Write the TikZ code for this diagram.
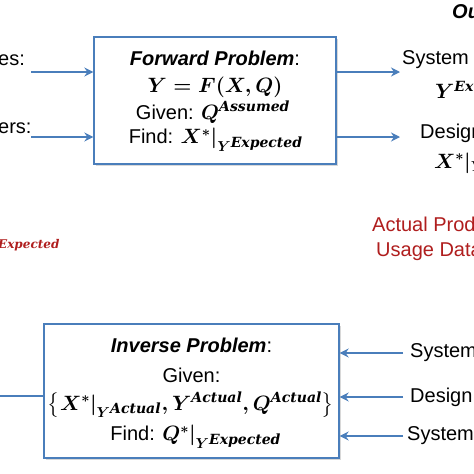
\documentclass[tikz,border=0pt]{standalone}
\usepackage{amsmath}
\usepackage[no-math]{fontspec}
\setmainfont{Liberation Sans}
\newfontfamily\serifbi{DejaVu Serif}
\usetikzlibrary{arrows.meta,shadows}
\definecolor{lineblue}{HTML}{4A7EBB}
\definecolor{darkred}{HTML}{B01E1E}
\newcommand{\bmth}[1]{\mbox{\boldmath$#1$}}
\newcommand{\wsup}[1]{\mbox{\fontsize{14}{14}\selectfont\serifbi\bfseries\itshape #1}}
\begin{document}
\begin{tikzpicture}[x=1pt,y=-1pt,
  font=\fontsize{20}{24}\selectfont,
  box/.style={draw=lineblue, line width=1.3pt, fill=white, inner sep=0pt,
    drop shadow={shadow xshift=2pt, shadow yshift=-2pt, opacity=0.3}},
  arr/.style={draw=lineblue, line width=1.3pt, -{Stealth[length=9pt,width=9pt,inset=3pt]}},
  plainline/.style={draw=lineblue, line width=1.3pt},
  txt/.style={inner sep=0pt},
  lbl/.style={inner sep=0pt, anchor=west},
  redtxt/.style={inner sep=0pt, anchor=west, text=darkred}]
\useasboundingbox (0,0) rectangle (474,474);
\clip (0,0) rectangle (474,474);
\fill[white] (0,0) rectangle (474,474);

% Forward problem box
\node[box, minimum width=242pt, minimum height=127pt] (fwd) at (215,100.5) {};
\node[txt] (f1) at (215,58) {\textbf{\textit{Forward Problem}}:};
\node[txt] (f2) at (215,87) {\bmth{Y = F(X,Q)}};
\node[txt] (f3) at (213,112) {Given: \bmth{Q^{\wsup{Assumed}}}};
\node[txt] (f4) at (216,140) {Find: \bmth{X^*\vert_{Y^{\wsup{Expected}}}}};

% inputs
\node[lbl] (l1) at (-2,60) {es:};
\node[lbl] (l2) at (-2,128) {ers:};
\coordinate (a1) at (31,72);
\coordinate (a2) at (31,137);
\draw[arr] (a1) -- (a1 -| fwd.west);
\draw[arr] (a2) -- (a2 -| fwd.west);

% outputs
\coordinate (b1) at (400,72);
\coordinate (b2) at (400,137);
\draw[arr] (fwd.east |- b1) -- (b1);
\draw[arr] (fwd.east |- b2) -- (b2);
\node[lbl] (o0) at (452,12) {\textbf{\textit{Ou}}};
\node[lbl] (o1) at (402,60) {System};
\node[lbl] (o2) at (435,90) {\bmth{Y^{\wsup{Ex}}}};
\node[lbl] (o3) at (420,133) {Design};
\node[lbl] (o4) at (434,163) {\bmth{X^*\vert_{Y}}};

% red texts
\node[redtxt] (r1) at (372,224) {Actual Produ};
\node[redtxt] (r2) at (376,252) {Usage Data};
\node[redtxt, font=\fontsize{12}{14}\selectfont] (r3) at (-2,245) {\serifbi\bfseries\itshape Expected};

% Inverse problem box
\node[box, minimum width=295pt, minimum height=134pt] (inv) at (191.5,391) {};
\node[txt] (i1) at (191.5,345) {\textbf{\textit{Inverse Problem}}:};
\node[txt] (i2) at (191.5,375) {Given:};
\node[txt] (i3) at (191,405) {\bmth{\bigl\{X^*\vert_{Y^{\wsup{Actual}}}, Y^{\wsup{Actual}}, Q^{\wsup{Actual}}\bigr\}}};
\node[txt] (i4) at (196,437) {Find: \bmth{Q^*\vert_{Y^{\wsup{Expected}}}}};

\coordinate (c0) at (-5,396);
\draw[plainline] (inv.west |- c0) -- (c0);

\coordinate (d1) at (403,353);
\coordinate (d2) at (403,397);
\coordinate (d3) at (403,436);
\draw[arr] (d1) -- (d1 -| inv.east);
\draw[arr] (d2) -- (d2 -| inv.east);
\draw[arr] (d3) -- (d3 -| inv.east);
\node[lbl] (s1) at (410,353) {System};
\node[lbl] (s2) at (410,397) {Design};
\node[lbl] (s3) at (407,436) {System};
\end{tikzpicture}
\end{document}
